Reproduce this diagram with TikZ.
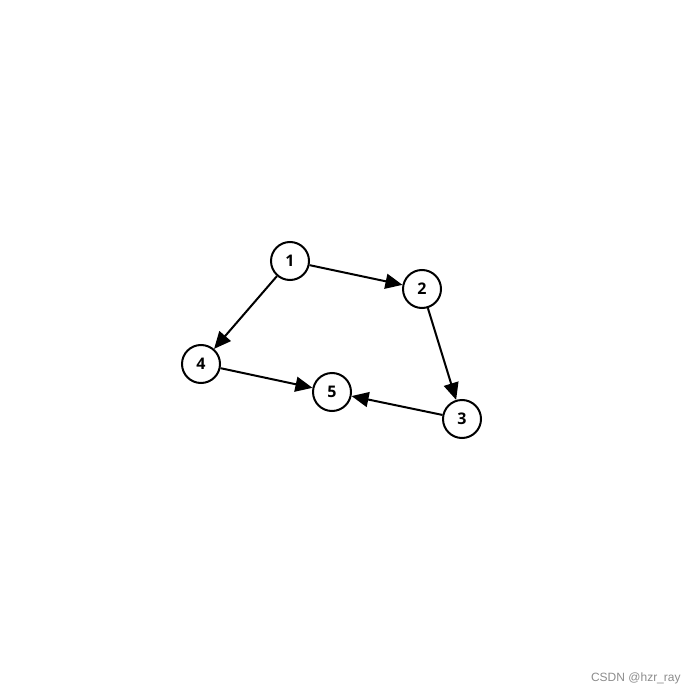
\documentclass[tikz,border=0pt]{standalone}
\usepackage{fontspec}
\setmainfont{Open Sans}
\newfontfamily\markfont{Liberation Sans}
\usetikzlibrary{arrows.meta}
\tikzset{
  vertex/.style={draw, circle, line width=1pt, minimum size=19pt, inner sep=0pt, font=\fontsize{8}{9}\selectfont\bfseries},
  edge/.style={line width=1pt, -{Triangle[length=8.5pt,width=7.5pt]}}
}
\begin{document}
\begin{tikzpicture}[x=0.5pt,y=-0.5pt]
\useasboundingbox (0,0) rectangle (695,695);
\node [vertex] (v1) at (290,261) {1};
\node [vertex] (v2) at (422,289) {2};
\node [vertex] (v3) at (462,419) {3};
\node [vertex] (v4) at (201,364) {4};
\node [vertex] (v5) at (332,392) {5};
\draw [edge] (v1) -- (v2);
\draw [edge] (v2) -- (v3);
\draw [edge] (v3) -- (v5);
\draw [edge] (v1) -- (v4);
\draw [edge] (v4) -- (v5);
% watermark
\node [anchor=east, text=black!45, inner sep=0pt, font=\markfont\fontsize{6}{7}\selectfont] (mark) at (681,678) {CSDN @hzr\_ray};
\end{tikzpicture}
\end{document}
